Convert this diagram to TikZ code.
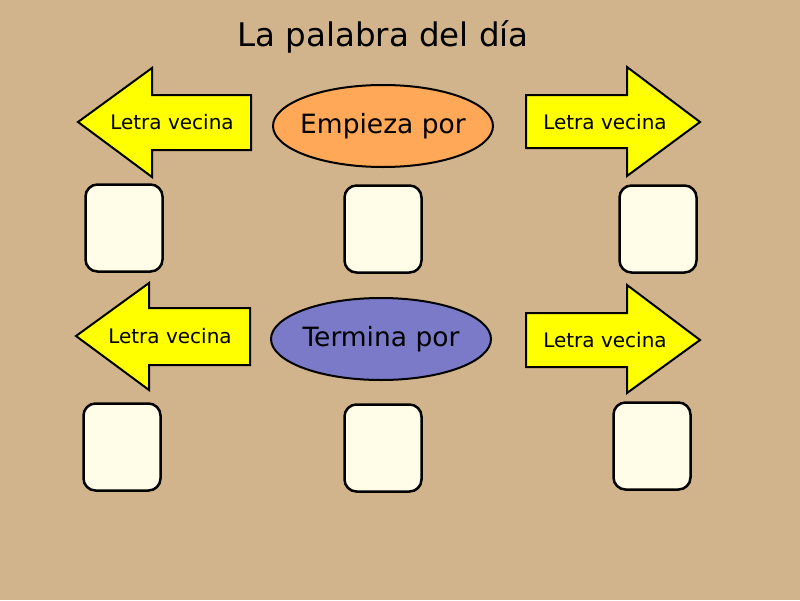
\documentclass[tikz,border=0pt]{standalone}
\usepackage{fontspec}
\setmainfont{DejaVu Sans}
\usepackage{xcolor}
\usetikzlibrary{shapes,positioning}

\definecolor{slide}{RGB}{210,180,140}
\definecolor{vecinafill}{RGB}{255,255,0}
\definecolor{empiezafill}{RGB}{255,168,88}
\definecolor{terminafill}{RGB}{122,122,200}
\definecolor{slotfill}{RGB}{255,253,231}

\tikzset{
  arrowbody/.style={draw=black, line width=2pt, fill=vecinafill, line join=miter},
  vecina/.style={font=\fontsize{20}{22}\selectfont},
  pista/.style={ellipse, draw=black, line width=2pt, minimum width=220pt, minimum height=82pt, inner sep=0pt,
    label={[font=\fontsize{26.5}{30}\selectfont]center:#1}},
  slot/.style={draw=black, line width=2.5pt, fill=slotfill, rounded corners=12pt, minimum width=77pt, minimum height=87pt, inner sep=0pt}
}

\begin{document}
\begin{tikzpicture}[x=1pt, y=-1pt]
        % Background
        \fill[slide] (0,0) rectangle (800,600);

        % Title
        \node[font=\fontsize{32.5}{36}\selectfont] (titulo) at (383,37) {La palabra del día};

        % Center ellipses
        \node[pista={Empieza por}, fill=empiezafill] (empieza) at (383,126) {};
        \node[pista={Termina por}, fill=terminafill] (termina) at (381,339) {};

        % Left arrows
        \draw[arrowbody] (251,95) -- (152,95) -- (152,68) -- (78,122) -- (152,177) -- (152,150) -- (251,150) -- cycle;
        \node[vecina] (vecinaTL) at (172,122) {Letra vecina};
        \draw[arrowbody] (250,308) -- (149,308) -- (149,283) -- (76,336) -- (149,390) -- (149,365) -- (250,365) -- cycle;
        \node[vecina] (vecinaBL) at (170,336) {Letra vecina};

        % Right arrows
        \draw[arrowbody] (526,95) -- (627,95) -- (627,67) -- (700,122) -- (627,176) -- (627,148) -- (526,148) -- cycle;
        \node[vecina] (vecinaTR) at (605,122) {Letra vecina};
        \draw[arrowbody] (526,313) -- (627,313) -- (627,285) -- (700,340) -- (627,393) -- (627,367) -- (526,367) -- cycle;
        \node[vecina] (vecinaBR) at (605,340) {Letra vecina};

        % Letter boxes
        \node[slot] (slotTL) at (124,228) {};
        \node[slot] (slotTM) at (383,229) {};
        \node[slot] (slotTR) at (658,229) {};
        \node[slot] (slotBL) at (122,447) {};
        \node[slot] (slotBM) at (383,448) {};
        \node[slot] (slotBR) at (652,446) {};
      \end{tikzpicture}
\end{document}
